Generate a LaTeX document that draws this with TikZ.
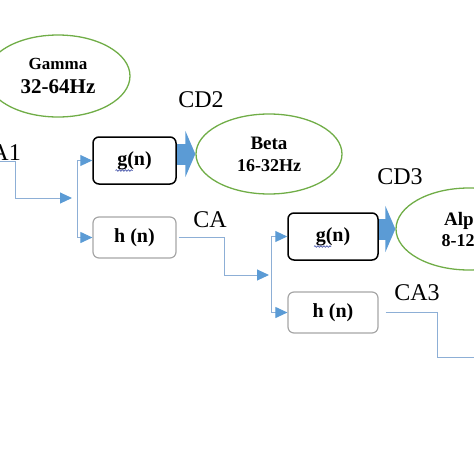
\documentclass[tikz,border=0pt]{standalone}
\usepackage{fontspec}
\setmainfont{Liberation Serif}
\usetikzlibrary{arrows.meta,calc,shapes.geometric,decorations.pathmorphing}
\definecolor{lineblue}{HTML}{5B9BD5}
\definecolor{wireblue}{HTML}{8DAFD6}
\definecolor{ellgreen}{HTML}{70AD47}
\definecolor{boxgray}{HTML}{A6A6A6}
\definecolor{wavyblue}{HTML}{2F3F9F}

\begin{document}
\begin{tikzpicture}[x=1pt,y=-1pt,
    band/.style={ellipse,draw=ellgreen,line width=1.3pt,inner sep=0pt,align=center},
    gbox/.style={draw,rounded corners=6pt,line width=1.5pt,inner sep=0pt,font=\fontsize{20}{24}\selectfont\bfseries},
    hbox/.style={gbox,draw=boxgray,line width=1.2pt},
    lbl/.style={font=\fontsize{24}{28}\selectfont},
    conn/.style={draw=wireblue,line width=1pt},
    feed/.style={conn,-{Triangle[length=12pt,width=11pt,color=lineblue]}},
    fat/.style={draw=lineblue,line width=21pt,-{Triangle[length=10pt,width=46pt]}},
    squiggle/.style={draw=wavyblue,line width=0.6pt,decorate,decoration={snake,amplitude=0.8pt,segment length=3pt}}]
        \clip (0,0) rectangle (474,474);
        % frequency bands
        \node[band,minimum width=144pt,minimum height=82pt,font=\fontsize{21}{24}\selectfont\bfseries] (gamma) at (58,76)
            {\fontsize{17}{24}\selectfont Gamma\\\fontsize{21}{24}\selectfont 32-64Hz};
        \node[band,minimum width=146pt,minimum height=80pt,font=\fontsize{18}{22}\selectfont\bfseries] (beta) at (269,154)
            {\fontsize{19}{22}\selectfont Beta\\\fontsize{18}{22}\selectfont 16-32Hz};
        \node[band,minimum width=146pt,minimum height=82pt,font=\fontsize{18}{21}\selectfont\bfseries] (alpha) at (469,229)
            {\fontsize{19}{21}\selectfont Alpha\\\fontsize{18}{21}\selectfont 8-12Hz};
        % filters
        \node[gbox,minimum width=83pt,minimum height=47pt] (g1) at (134.5,160.5) {g(n)};
        \node[hbox,minimum width=83pt,minimum height=41pt] (h1) at (134.5,237.5) {h (n)};
        \node[gbox,minimum width=90pt,minimum height=47pt] (g2) at (333,236.5) {g(n)};
        \node[hbox,minimum width=90pt,minimum height=41pt] (h2) at (333,312.5) {h (n)};
        \foreach \g in {g1,g2} \draw[squiggle] ($(\g.center)+(-19,10)$) -- ++(17,0);
        % labels
        \node[lbl,anchor=east,inner sep=0pt] (ca1) at (21,153) {CA1};
        \node[lbl] (cd2) at (201,100) {CD2};
        \node[lbl] (ca) at (210,220) {CA};
        \node[lbl] (cd3) at (400,177) {CD3};
        \node[lbl] (ca3) at (417,293) {CA3};
        % signal path
        \coordinate (in) at (0,161);
        \coordinate (j1) at (77,198);
        \coordinate (j2) at (271,275);
        \coordinate (out) at (474,357);
        \draw[feed,shorten >=5pt] (in) -- ++(15,0) |- (j1);
        \draw[conn] (j1 |- g1) -- (j1 |- h1);
        \draw[feed] (j1 |- g1) -- (g1.west);
        \draw[feed] (j1 |- h1) -- (h1.west);
        \draw[feed,shorten <=2pt,shorten >=2pt] (h1.east) -- ++(48,0) |- (j2);
        \draw[conn] (j2 |- g2) -- (j2 |- h2);
        \draw[feed] (j2 |- g2) -- (g2.west);
        \draw[feed] (j2 |- h2) -- (h2.west);
        \draw[conn,shorten <=7pt] (h2.east) -- ++(59,0) |- (out);
        \draw[fat] (beta.west -| g1.east) -- (beta.west);
        \draw[fat] (alpha.west -| g2.east) -- (alpha.west);
\end{tikzpicture}
\end{document}
